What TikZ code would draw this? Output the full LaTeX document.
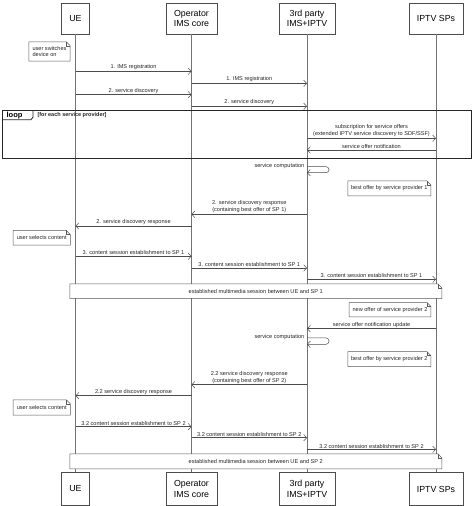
\documentclass[tikz,border=0pt]{standalone}
\usepackage{fontspec}
\setmainfont{Liberation Sans}
\usetikzlibrary{arrows.meta}
\newcommand{\msgfont}{\fontsize{5.6}{6.9}\selectfont}
\tikzset{
  actor/.style={draw=black!70, fill=white, line width=0.6pt, align=center,
    font=\fontsize{8.8}{10.6}\selectfont, inner sep=0pt, minimum height=31pt},
  lifeline/.style={draw=black!55, line width=0.6pt},
  msg/.style={draw=black!70, line width=0.5pt, -{Straight Barb[length=3pt,width=6.5pt]}},
  msglabel/.style={font=\msgfont, inner sep=1pt, align=center, text=black!85},
  notebody/.style={font=\msgfont, inner sep=0pt, align=left, fill=white, text=black!85},
  noteline/.style={draw=black!65, line width=0.5pt},
  frame/.style={draw=black!85, line width=0.8pt},
}
\newcommand{\umlnote}[6]{%
  \node[notebody, minimum width=#4, minimum height=#5] (#1) at (#2,#3) {#6};
  \draw[noteline] (#1.south west) -- (#1.north west) -- ([xshift=-4pt]#1.north east)
     -- ([yshift=-4pt]#1.north east) -- (#1.south east) -- cycle;
  \draw[noteline] ([xshift=-4pt]#1.north east) -- ([xshift=-4pt,yshift=-4pt]#1.north east)
     -- ([yshift=-4pt]#1.north east);}
\begin{document}
\begin{tikzpicture}[x=1pt,y=-1pt]
\useasboundingbox[fill=white] (0,0) rectangle (474,506);
% actors
\node[actor, minimum width=27.6pt] (ueT) at (75.5,18.5) {UE};
\node[actor, minimum width=51pt] (opT) at (191.5,18.5) {Operator\\IMS core};
\node[actor, minimum width=56pt] (tpT) at (307,18.5) {3rd party\\IMS+IPTV};
\node[actor, minimum width=54pt] (spT) at (436,18.5) {IPTV SPs};
\node[actor, minimum width=27.6pt, minimum height=33pt] (ueB) at (75.5,489) {UE};
\node[actor, minimum width=51pt, minimum height=33pt] (opB) at (191.5,489) {Operator\\IMS core};
\node[actor, minimum width=56pt, minimum height=33pt] (tpB) at (307,489) {3rd party\\IMS+IPTV};
\node[actor, minimum width=54pt, minimum height=33pt] (spB) at (436,489) {IPTV SPs};
% lifelines
\draw[lifeline] (ueT.south) -- (ueB.north);
\draw[lifeline] (opT.south) -- (opB.north);
\draw[lifeline] (tpT.south) -- (tpB.north);
\draw[lifeline] (spT.south) -- (spB.north);
% note
\umlnote{n0}{49.5}{51.5}{41pt}{19pt}{user switches\\device on}
% messages
\draw[msg] (ueT |- 0,71.3) -- (opT |- 0,71.3) node[msglabel, midway, above] {1. IMS registration};
\draw[msg] (opT |- 0,83.3) -- (tpT |- 0,83.3) node[msglabel, midway, above] {1. IMS registration};
\draw[msg] (ueT |- 0,94.7) -- (opT |- 0,94.7) node[msglabel, midway, above] {2. service discovery};
\draw[msg] (opT |- 0,106.3) -- (tpT |- 0,106.3) node[msglabel, midway, above] {2. service discovery};
% loop frame
\draw[frame] (2.7,110.7) rectangle (471.7,158.7);
\draw[frame] (2.7,119.7) -- (31,119.7) -- (33,117.2) -- (33,110.7);
\node[font=\bfseries\fontsize{7.5}{8}\selectfont, inner sep=0pt] (looplbl) at (14.5,115.4) {loop};
\node[font=\bfseries\fontsize{5.5}{6}\selectfont, inner sep=0pt, anchor=west, text=black!85] (loopcond) at (37.3,114.6) {[for each service provider]};
\draw[msg] (tpT |- 0,138.3) -- (spT |- 0,138.3) node[msglabel, midway, above] {subscription for service offers\\(extended IPTV service discovery to SDF/SSF)};
\draw[msg] (spT |- 0,150) -- (tpT |- 0,150) node[msglabel, midway, above] {service offer notification};
% self message 1
\draw[msg, rounded corners=3pt] (tpT |- 0,166.7) -- ++(22,0) -- ++(0,6) -- (tpT |- 0,172.7);
\node[msglabel, anchor=east] (sc1) at (305.5,165.6) {service computation};
\umlnote{n1}{389.3}{188.3}{82.7pt}{14.7pt}{best offer by service provider 1}
\draw[msg] (tpT |- 0,214.3) -- (opT |- 0,214.3) node[msglabel, midway, above] {2. service discovery response\\(containing best offer of SP 1)};
\draw[msg] (opT |- 0,226) -- (ueT |- 0,226) node[msglabel, midway, above] {2. service discovery response};
\umlnote{n2}{41.7}{237.8}{56.7pt}{14.3pt}{user selects content}
\draw[msg] (ueT |- 0,256.3) -- (opT |- 0,256.3) node[msglabel, midway, above] {3. content session establishment to SP 1};
\draw[msg] (opT |- 0,268) -- (tpT |- 0,268) node[msglabel, midway, above] {3. content session establishment to SP 1};
\draw[msg] (tpT |- 0,279.3) -- (spT |- 0,279.3) node[msglabel, midway, above] {3. content session establishment to SP 1};
\umlnote{n3}{255.8}{291.2}{371.7pt}{14.3pt}{established multimedia session between UE and SP 1}
\umlnote{n4}{390}{309.7}{81.4pt}{14pt}{new offer of service provider 2}
\draw[msg] (spT |- 0,328.7) -- (tpT |- 0,328.7) node[msglabel, midway, above] {service offer notification update};
% self message 2
\draw[msg, rounded corners=3pt] (tpT |- 0,337.9) -- ++(22,0) -- ++(0,6.4) -- (tpT |- 0,344.3);
\node[msglabel, anchor=east] (sc2) at (305.5,336.6) {service computation};
\umlnote{n5}{389.3}{359}{82.7pt}{14.6pt}{best offer by service provider 2}
\draw[msg] (tpT |- 0,384.7) -- (opT |- 0,384.7) node[msglabel, midway, above] {2.2 service discovery response\\(containing best offer of SP 2)};
\draw[msg] (opT |- 0,395.7) -- (ueT |- 0,395.7) node[msglabel, midway, above] {2.2 service discovery response};
\umlnote{n6}{41.7}{407.5}{56.7pt}{15pt}{user selects content}
\draw[msg] (ueT |- 0,426.7) -- (opT |- 0,426.7) node[msglabel, midway, above] {3.2 content session establishment to SP 2};
\draw[msg] (opT |- 0,437.7) -- (tpT |- 0,437.7) node[msglabel, midway, above] {3.2 content session establishment to SP 2};
\draw[msg] (tpT |- 0,449.3) -- (spT |- 0,449.3) node[msglabel, midway, above] {3.2 content session establishment to SP 2};
\umlnote{n7}{255.8}{461.3}{371.7pt}{14.7pt}{established multimedia session between UE and SP 2}
\end{tikzpicture}
\end{document}
